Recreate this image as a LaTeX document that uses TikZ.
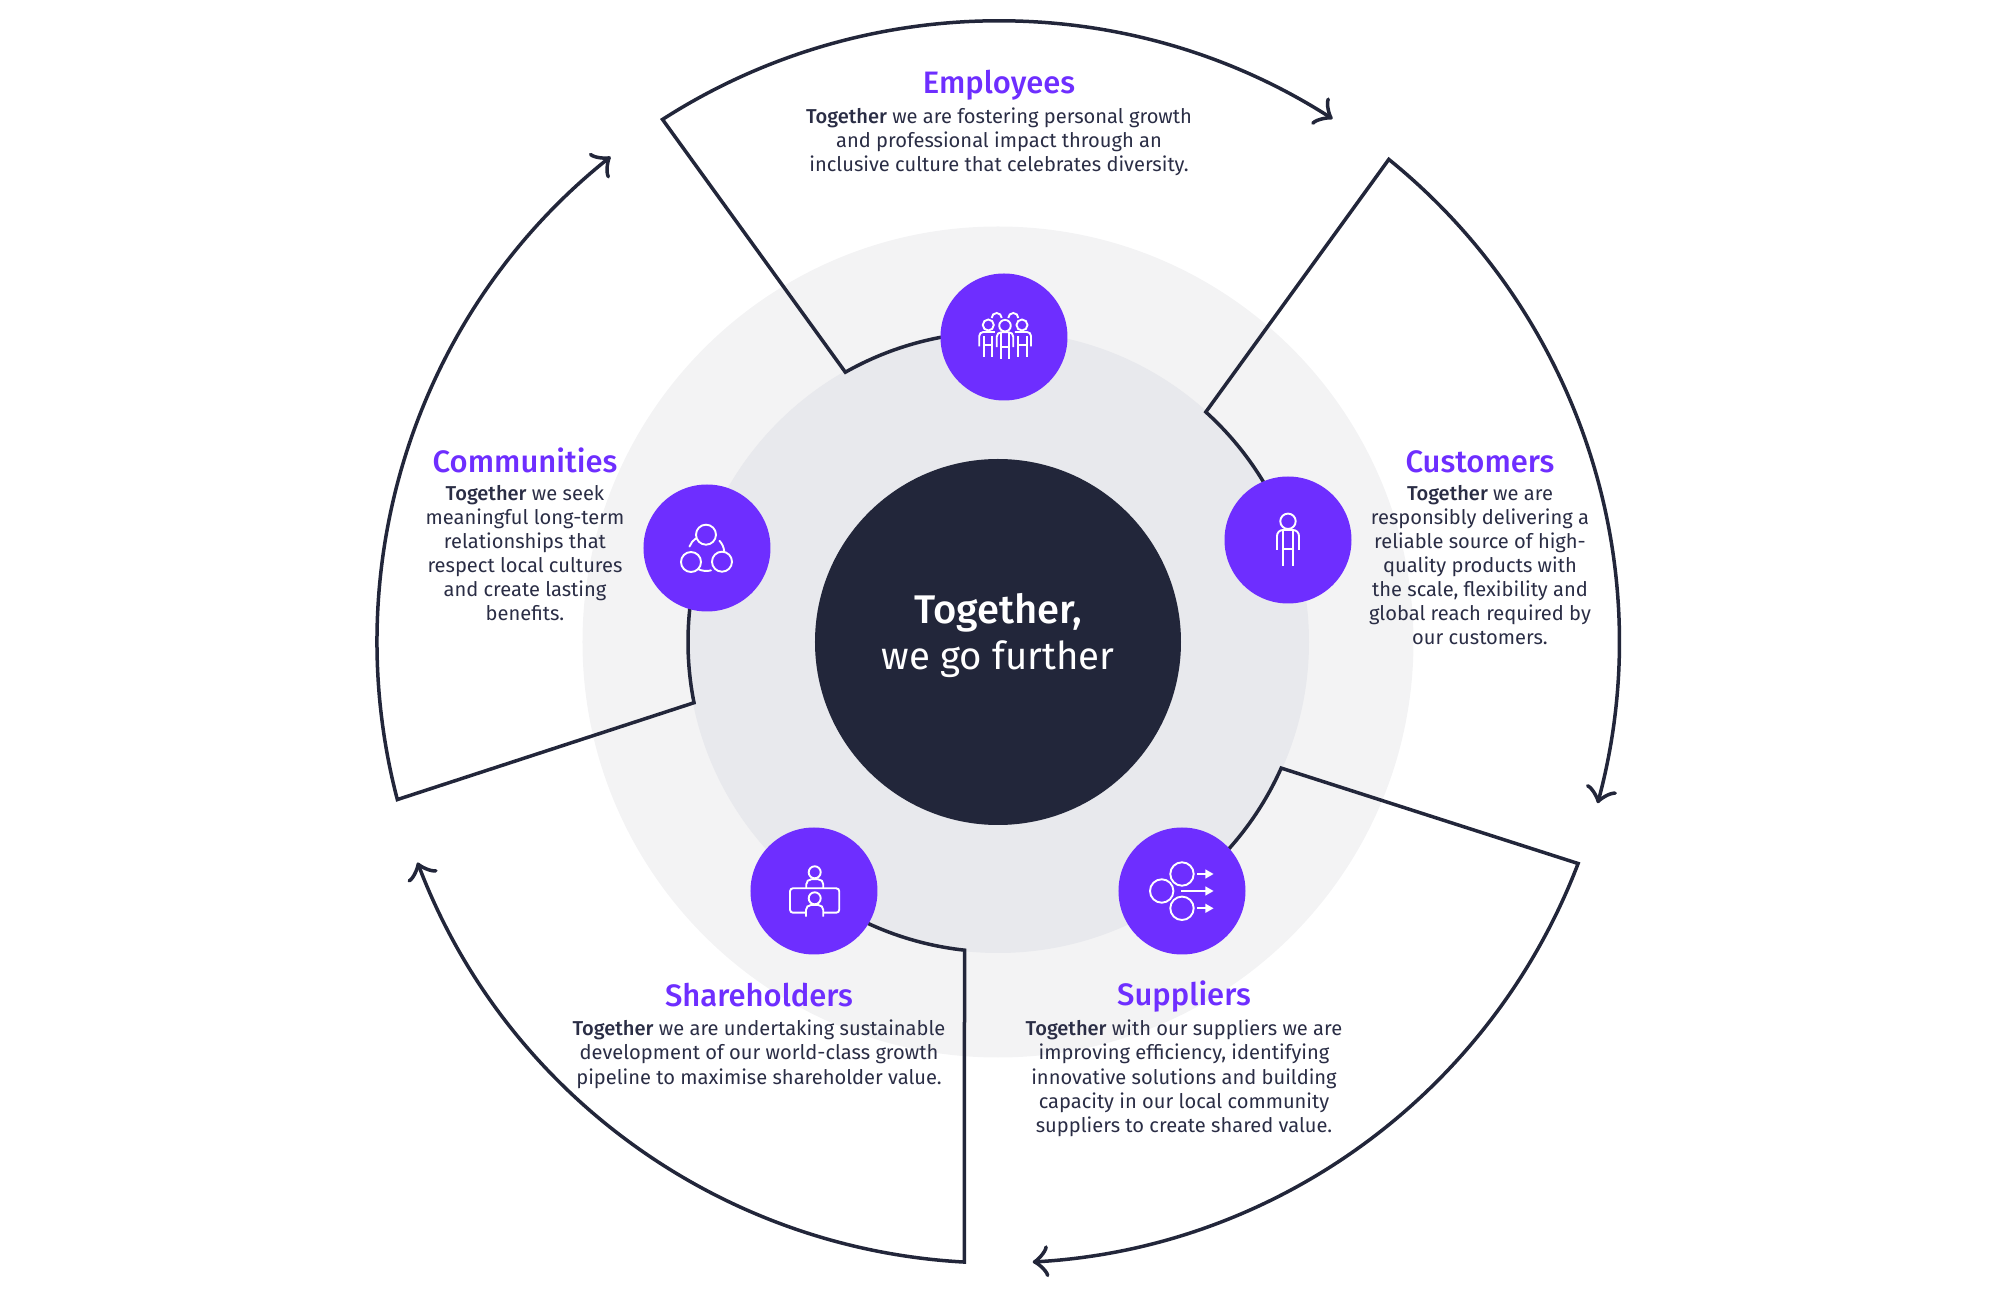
\documentclass[tikz,border=0pt]{standalone}
\usepackage{fontspec}
\usetikzlibrary{arrows.meta}
\setmainfont{Fira Sans}[BoldFont={Fira Sans Medium}]
\definecolor{ink}{HTML}{22263A}
\definecolor{txt}{HTML}{2A2D45}
\definecolor{vio}{HTML}{6E2EFF}
\definecolor{ringa}{HTML}{F3F3F4}
\definecolor{ringb}{HTML}{E8E9ED}
\tikzset{
  seg/.style={draw=ink,line width=3.5pt,line join=miter,-{Classical TikZ Rightarrow[width=32pt,length=16pt,line width=3.5pt]}},
  badge/.style={circle,fill=vio,minimum size=127pt,inner sep=0pt},
  ico/.style={draw=white,line width=1.9pt},
  ttl/.style={text=vio,font=\fontsize{31}{33}\selectfont\bfseries,inner sep=0pt},
  body/.style={text=txt,font=\fontsize{20.1}{24.1}\selectfont,align=center,inner sep=0pt,anchor=north},
}
\newcommand{\personfig}[3]{%
 \begin{scope}[shift={(#1,#2)},scale=#3]
  \draw[ico] (0,0) circle[radius=7.7];
  \draw[ico] (-11,-28.7) -- (-11,-14.7) arc[start angle=180,end angle=90,radius=6] -- (5,-8.7) arc[start angle=90,end angle=0,radius=6] -- (11,-28.7);
  \draw[ico] (-5,-8.7) -- (-5,-44.3) (5,-8.7) -- (5,-44.3) (-5,-28) -- (5,-28);
 \end{scope}}
\begin{document}
\begin{tikzpicture}[x=1pt,y=1pt]
\useasboundingbox (-998,-658) rectangle (1002,642);
\fill[ringa] (0,0) circle[radius=415.5];
\fill[ringb] (0,0) circle[radius=311];
% ribbons
\draw[seg] (90:310) arc[start angle=90,end angle=119.5,radius=310] -- (122.7:621) arc[start angle=122.7,end angle=57.4,radius=621];
\draw[seg] (20:310) arc[start angle=20,end angle=47.9,radius=310] -- (51:621) arc[start angle=51,end angle=-15.05,radius=621];
\draw[seg] (-50:310) arc[start angle=-50,end angle=-24,radius=310] -- (-20.9:621) arc[start angle=-20.9,end angle=-86.8,radius=621];
\draw[seg] (-125:310) arc[start angle=-125,end angle=-96.2,radius=310] -- (-93.1:621) arc[start angle=-93.1,end angle=-159.2,radius=621];
\draw[seg] (165:310) arc[start angle=165,end angle=191.3,radius=310] -- (194.7:621) arc[start angle=194.7,end angle=128.6,radius=621];
% centre
\node[circle,fill=ink,minimum size=366pt,inner sep=0pt] (hub) at (0,0) {};
\node[text=white,font=\fontsize{40}{46}\selectfont\bfseries,inner sep=0pt] (hubA) at (0,29.5) {Together,};
\node[text=white,font=\fontsize{38.4}{46}\selectfont,inner sep=0pt] (hubB) at (0,-17.5) {we go further};
% badges
\node[badge] (emp) at (6,305) {};
\node[badge] (cus) at (290,102) {};
\node[badge] (sup) at (184,-249) {};
\node[badge] (sha) at (-184,-249) {};
\node[badge] (com) at (-291,94) {};
% employees icon
\begin{scope}[shift={(6,305)}]
 \personfig{1}{11.3}{0.75}
 \draw[ico] (-15.7,12) circle[radius=5.5] (18,12) circle[radius=5.5];
 \draw[ico] (-24.7,-9.3) -- (-24.7,1) arc[start angle=180,end angle=90,radius=4] -- (-9,5);
 \draw[ico] (27,-9.3) -- (27,1) arc[start angle=0,end angle=90,radius=4] -- (11,5);
 \draw[ico] (-20.3,1) -- (-20.3,-20) (-11.7,1) -- (-11.7,-20) (-20.3,-8.3) -- (-11.7,-8.3);
 \draw[ico] (14,1) -- (14,-20) (22.7,1) -- (22.7,-20) (14,-8.3) -- (22.7,-8.3);
 \draw[ico] (-12.3,19) arc[start angle=180,end angle=0,radius=5];
 \draw[ico] (4.3,19) arc[start angle=180,end angle=0,radius=5];
\end{scope}
% customers icon
\personfig{290}{120.7}{1}
% suppliers icon
\begin{scope}[shift={(184,-249)}]
 \draw[ico] (0,17) circle[radius=11.7] (-20.3,0) circle[radius=11.7] (0,-17.3) circle[radius=11.7];
 \draw[ico] (15.3,17) -- (24,17) (-1,0) -- (24,0) (15.3,-17.3) -- (24,-17.3);
 \fill[white] (23.3,21.7) -- (31.5,17) -- (23.3,12.3) -- cycle;
 \fill[white] (23.3,4.7) -- (31.5,0) -- (23.3,-4.7) -- cycle;
 \fill[white] (23.3,-12.6) -- (31.5,-17.3) -- (23.3,-22) -- cycle;
\end{scope}
% shareholders icon
\begin{scope}[shift={(-184,-249)}]
 \draw[ico] (0.7,18.7) circle[radius=6] (0.7,-7.3) circle[radius=6];
 \draw[ico] (-7.7,2.7) -- (-7.7,6.7) arc[start angle=180,end angle=90,radius=5] -- (4.3,11.7) arc[start angle=90,end angle=0,radius=5] -- (9.3,2.7);
 \draw[ico] (-8,-21.7) -- (-21,-21.7) arc[start angle=270,end angle=180,radius=3] -- (-24,-0.3) arc[start angle=180,end angle=90,radius=3] -- (22.3,2.7) arc[start angle=90,end angle=0,radius=3] -- (25.3,-18.7) arc[start angle=0,end angle=-90,radius=3] -- (9.3,-21.7);
 \draw[ico] (-8,-25.7) -- (-8,-19) arc[start angle=180,end angle=90,radius=5] -- (4.3,-14) arc[start angle=90,end angle=0,radius=5] -- (9.3,-25.7);
\end{scope}
% communities icon
\begin{scope}[shift={(-291,94)}]
 \draw[ico] (-1,13.3) circle[radius=10] (-16,-14) circle[radius=10] (15,-13.7) circle[radius=10];
 \draw[ico,line cap=round] (-0.7,-5) ++(159:18) arc[start angle=159,end angle=125,radius=18];
 \draw[ico,line cap=round] (-0.7,-5) ++(43:18) arc[start angle=43,end angle=5,radius=18];
 \draw[ico,line cap=round] (-0.7,-5) ++(243:18) arc[start angle=243,end angle=285,radius=18];
\end{scope}
% labels
\node[ttl] (t1) at (1,557) {Employees};
\node[body,font=\fontsize{20.1}{23.9}\selectfont] (b1) at (1,534) {\textbf{Together} we are fostering personal growth\\and professional impact through an\\inclusive culture that celebrates diversity.};
\node[ttl] (t2) at (482,180) {Customers};
\node[body] (b2) at (482,157) {\textbf{Together} we are\\responsibly delivering a\\reliable source of high-\\quality products with\\the scale, flexibility and\\global reach required by\\our customers.};
\node[ttl] (t3) at (186,-355) {Suppliers};
\node[body] (b3) at (186,-378) {\textbf{Together} with our suppliers we are\\improving efficiency, identifying\\innovative solutions and building\\capacity in our local community\\suppliers to create shared value.};
\node[ttl] (t4) at (-239,-353) {Shareholders};
\node[body] (b4) at (-239,-378) {\textbf{Together} we are undertaking sustainable\\development of our world-class growth\\pipeline to maximise shareholder value.};
\node[ttl] (t5) at (-473,182) {Communities};
\node[body] (b5) at (-473,157) {\textbf{Together} we seek\\meaningful long-term\\relationships that\\respect local cultures\\and create lasting\\benefits.};
\end{tikzpicture}
\end{document}
